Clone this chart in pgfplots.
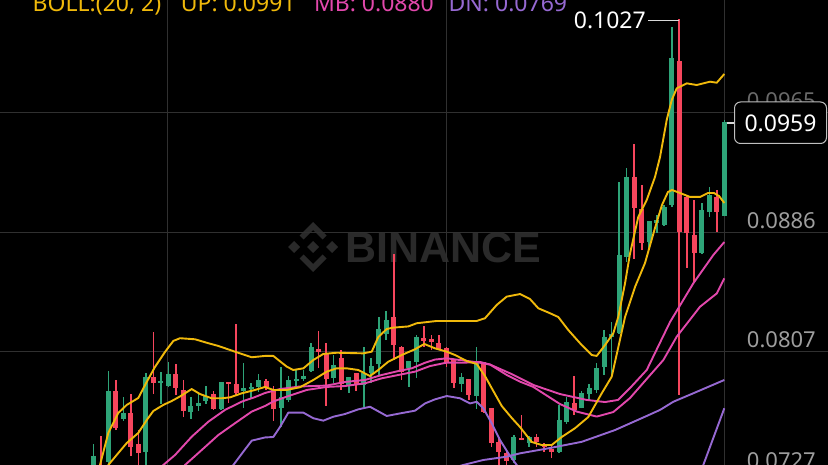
\documentclass[border=0pt]{standalone}
\usepackage{fontspec}
\setmainfont{Noto Sans}
\newfontfamily\wmfont{Liberation Sans}
\usepackage{pgfplots}
\usepackage{pgfplotstable}
\pgfplotsset{compat=1.18}
\definecolor{upc}{RGB}{46,164,120}
\definecolor{dnc}{RGB}{246,70,93}
\definecolor{yel}{RGB}{240,185,11}
\definecolor{pnk}{RGB}{226,72,172}
\definecolor{pur}{RGB}{150,105,210}
\definecolor{gridc}{RGB}{48,48,48}
\definecolor{lbl}{RGB}{158,158,158}
\definecolor{lbldim}{RGB}{105,105,105}
\definecolor{wm}{RGB}{42,42,42}

% green (rising) candles: index open close high low
\pgfplotstableread{
i o c h l
0 0.07257 0.07382 0.07462 0.07191
2 0.07343 0.07812 0.07944 0.07290
4 0.07627 0.07667 0.07772 0.07614
7 0.07409 0.07905 0.07931 0.07316
9 0.07865 0.07878 0.07938 0.07726
10 0.07845 0.07925 0.08004 0.07839
13 0.07673 0.07713 0.07772 0.07627
14 0.07713 0.07733 0.07799 0.07680
15 0.07746 0.07779 0.07845 0.07726
17 0.07693 0.07872 0.07872 0.07687
20 0.07812 0.07832 0.07997 0.07700
21 0.07825 0.07839 0.07865 0.07759
22 0.07839 0.07885 0.07925 0.07806
25 0.07700 0.07772 0.07971 0.07574
26 0.07753 0.07885 0.07911 0.07739
27 0.07878 0.07891 0.07951 0.07839
28 0.07891 0.07911 0.07951 0.07878
29 0.07944 0.08103 0.08130 0.07938
32 0.07898 0.07984 0.08050 0.07865
34 0.07852 0.07905 0.07905 0.07799
36 0.07852 0.07931 0.08103 0.07706
37 0.07931 0.07977 0.08030 0.07865
38 0.07991 0.08222 0.08301 0.07918
39 0.08189 0.08282 0.08341 0.08149
42 0.07964 0.08010 0.08010 0.07839
43 0.08004 0.08169 0.08182 0.07898
49 0.07858 0.07905 0.07931 0.07806
51 0.07779 0.07997 0.08103 0.07693
56 0.07356 0.07508 0.07521 0.07336
58 0.07468 0.07508 0.07515 0.07442
62 0.07409 0.07620 0.07720 0.07402
63 0.07607 0.07739 0.07772 0.07594
65 0.07700 0.07799 0.07812 0.07697
66 0.07792 0.07832 0.07858 0.07753
67 0.07819 0.07964 0.07997 0.07799
68 0.07971 0.08169 0.08215 0.07918
69 0.08169 0.08189 0.08268 0.07905
70 0.08196 0.08711 0.09194 0.08192
71 0.08698 0.09227 0.09286 0.08665
74 0.08797 0.08936 0.08936 0.08758
75 0.08923 0.08943 0.08976 0.08857
76 0.08910 0.09029 0.09042 0.08903
77 0.09042 0.10014 0.10219 0.09029
81 0.08724 0.09009 0.09055 0.08721
82 0.08996 0.09108 0.09161 0.08962
84 0.08969 0.09590 0.09604 0.08966
}\upT

% red (falling) candles: index open close high low
\pgfplotstableread{
i o c h l
1 0.07316 0.07211 0.07515 0.07171
3 0.07812 0.07568 0.07885 0.07554
5 0.07667 0.07442 0.07792 0.07382
6 0.07462 0.07402 0.07554 0.07316
8 0.07905 0.07865 0.08202 0.07792
11 0.07925 0.07832 0.07991 0.07786
12 0.07819 0.07680 0.07885 0.07640
16 0.07792 0.07693 0.07812 0.07687
18 0.07872 0.07858 0.07872 0.07733
19 0.07858 0.07799 0.08255 0.07786
23 0.07878 0.07839 0.07891 0.07819
24 0.07819 0.07693 0.07845 0.07614
30 0.08090 0.08070 0.08209 0.07964
31 0.08057 0.07891 0.08130 0.07713
33 0.08030 0.07858 0.08083 0.07819
35 0.07931 0.07852 0.07931 0.07812
40 0.08301 0.08116 0.08718 0.08017
41 0.08103 0.07938 0.08110 0.07885
44 0.08163 0.08143 0.08242 0.08103
45 0.08156 0.08136 0.08182 0.08083
46 0.08130 0.08090 0.08182 0.08080
47 0.08096 0.07997 0.08103 0.07971
48 0.08017 0.07865 0.08017 0.07832
50 0.07891 0.07786 0.07891 0.07753
52 0.08004 0.07673 0.08004 0.07667
53 0.07700 0.07468 0.07700 0.07442
54 0.07475 0.07409 0.07508 0.07310
55 0.07402 0.07349 0.07429 0.07316
57 0.07501 0.07488 0.07653 0.07485
59 0.07508 0.07475 0.07528 0.07442
60 0.07455 0.07442 0.07468 0.07409
61 0.07429 0.07409 0.07449 0.07369
64 0.07733 0.07687 0.07911 0.07653
72 0.09227 0.09022 0.09445 0.08685
73 0.09015 0.08791 0.09174 0.08744
78 0.09994 0.08863 0.10270 0.07786
79 0.09095 0.08857 0.09101 0.08625
80 0.08843 0.08724 0.09075 0.08533
83 0.09095 0.08996 0.09141 0.08863
}\dnT

% BOLL UP
\pgfplotstableread{
i p
0.49 0.07224
0.89 0.07323
2.00 0.07535
3.33 0.07667
4.45 0.07720
5.99 0.07766
7.11 0.07872
8.21 0.07971
9.54 0.08070
10.65 0.08143
11.54 0.08161
13.54 0.08154
15.31 0.08128
16.64 0.08110
18.86 0.08072
21.09 0.08035
22.86 0.08044
23.96 0.08044
25.75 0.07973
26.62 0.07951
27.96 0.07962
29.29 0.08017
30.62 0.08057
32.40 0.08065
34.17 0.08063
35.94 0.08061
37.06 0.08072
37.94 0.08169
39.06 0.08222
39.94 0.08231
41.93 0.08239
43.05 0.08260
45.71 0.08275
48.81 0.08275
51.04 0.08275
52.14 0.08293
53.70 0.08381
55.03 0.08436
56.80 0.08453
58.13 0.08420
59.24 0.08359
60.80 0.08326
61.90 0.08301
63.23 0.08215
65.01 0.08116
66.35 0.08050
67.01 0.08044
68.12 0.08116
69.22 0.08194
69.89 0.08303
70.78 0.08524
71.45 0.08722
72.55 0.08964
73.67 0.09075
74.77 0.09227
75.44 0.09359
76.33 0.09604
77.00 0.09736
77.66 0.09813
78.99 0.09846
80.32 0.09835
82.09 0.09857
82.99 0.09850
84.00 0.09908
}\upband

% short moving average (yellow)
\pgfplotstableread{
i p
1.69 0.07224
2.00 0.07323
3.33 0.07402
4.45 0.07468
5.99 0.07535
7.11 0.07620
7.99 0.07680
9.32 0.07720
10.44 0.07746
11.54 0.07776
13.10 0.07825
14.20 0.07792
15.76 0.07764
17.09 0.07764
18.20 0.07770
19.76 0.07797
21.53 0.07819
22.86 0.07839
23.96 0.07819
25.75 0.07819
27.52 0.07837
29.29 0.07885
31.07 0.07940
32.40 0.07962
33.73 0.07962
35.28 0.07951
36.83 0.07911
37.94 0.07951
39.27 0.08006
41.05 0.08050
42.82 0.08088
44.06 0.08123
45.49 0.08094
47.05 0.08072
48.15 0.08050
49.71 0.08010
51.04 0.07991
52.14 0.07911
53.25 0.07812
54.37 0.07713
55.70 0.07634
56.80 0.07574
58.36 0.07475
59.69 0.07455
61.02 0.07455
62.35 0.07508
64.12 0.07566
65.89 0.07640
67.68 0.07797
69.01 0.07907
69.89 0.08103
70.78 0.08301
72.11 0.08500
73.44 0.08658
74.77 0.08890
75.70 0.09042
76.50 0.09128
77.03 0.09141
78.10 0.09121
79.43 0.09095
80.76 0.09095
81.82 0.09121
82.62 0.09121
83.29 0.09101
84.00 0.09055
}\maS

% BOLL MB
\pgfplotstableread{
i p
8.88 0.07290
9.32 0.07323
10.88 0.07389
13.10 0.07510
15.31 0.07609
17.53 0.07687
19.76 0.07742
21.53 0.07772
22.86 0.07799
24.85 0.07825
27.52 0.07842
31.07 0.07848
33.51 0.07872
36.17 0.07885
38.39 0.07918
40.60 0.07944
42.39 0.07962
44.16 0.07999
45.49 0.08020
47.05 0.08028
49.25 0.08014
51.48 0.07999
52.81 0.07987
55.47 0.07929
58.57 0.07852
62.12 0.07792
65.68 0.07753
68.12 0.07739
69.85 0.07753
71.45 0.07832
73.67 0.07951
76.77 0.08268
79.87 0.08524
82.53 0.08711
84.00 0.08797
}\mbband

% middle moving average (pink)
\pgfplotstableread{
i p
11.81 0.07290
12.21 0.07323
14.43 0.07422
16.64 0.07521
18.86 0.07599
21.09 0.07676
22.86 0.07713
23.92 0.07742
25.75 0.07775
28.41 0.07819
31.07 0.07839
33.51 0.07845
36.17 0.07863
38.39 0.07896
40.60 0.07918
42.82 0.07940
44.82 0.07977
47.05 0.08000
49.25 0.07999
51.48 0.08004
52.81 0.07987
55.03 0.07918
56.80 0.07874
58.57 0.07839
62.12 0.07726
64.35 0.07676
67.01 0.07643
69.22 0.07673
71.45 0.07766
75.88 0.08017
77.66 0.08171
80.76 0.08369
82.99 0.08457
84.00 0.08557
}\maM

% BOLL DN
\pgfplotstableread{
i p
17.93 0.07257
18.64 0.07323
19.97 0.07411
21.09 0.07484
22.86 0.07505
23.96 0.07508
24.85 0.07574
25.96 0.07669
27.96 0.07669
29.29 0.07632
30.62 0.07616
31.95 0.07642
33.51 0.07660
35.28 0.07691
36.83 0.07708
39.06 0.07647
40.83 0.07664
42.82 0.07682
44.16 0.07730
45.49 0.07757
47.05 0.07779
48.81 0.07764
50.15 0.07730
51.04 0.07741
51.92 0.07698
53.03 0.07599
54.14 0.07488
55.25 0.07400
56.36 0.07323
57.47 0.07224
nan nan
79.43 0.07092
81.20 0.07323
84.00 0.07698
}\dnband

% long moving average (purple)
\pgfplotstableread{
i p
46.15 0.07277
49.25 0.07323
51.92 0.07356
55.03 0.07378
56.80 0.07400
60.57 0.07433
65.01 0.07476
69.45 0.07554
73.44 0.07642
75.44 0.07687
77.21 0.07741
79.87 0.07797
84.00 0.07885
}\maL

\begin{document}
\begin{tikzpicture}
\useasboundingbox (0,35bp) rectangle (828bp,500bp);
\fill[black] (0,35bp) rectangle (828bp,500bp);
% watermark
\begin{scope}[shift={(313bp,253bp)}, x=1bp, y=1bp]
  \fill[wm] (0,6)--(6,0)--(0,-6)--(-6,0)--cycle;
  \fill[wm] (-19,6)--(-13,0)--(-19,-6)--(-25,0)--cycle;
  \fill[wm] (19,6)--(25,0)--(19,-6)--(13,0)--cycle;
  \fill[wm] (0,25)--(13.5,11.5)--(9.5,7.5)--(0,17)--(-9.5,7.5)--(-13.5,11.5)--cycle;
  \fill[wm] (0,-25)--(13.5,-11.5)--(9.5,-7.5)--(0,-17)--(-9.5,-7.5)--(-13.5,-11.5)--cycle;
\end{scope}
\node[anchor=base west, inner sep=0, text=wm, font=\wmfont\bfseries\fontsize{43bp}{46bp}\selectfont] at (345bp,237bp) {BINANCE};

\begin{axis}[
  at={(0,0)}, anchor=south west,
  width=828bp, height=500bp, scale only axis,
  xmin=-12.42, xmax=97.80,
  ymin=0.070915, ymax=0.10397,
  axis line style={draw=none},
  tick style={draw=none},
  major tick length=0pt,
  xtick={9.94,47.08,84.08}, xticklabels={},
  ytick={0.0727,0.0807,0.0886,0.0965},
  yticklabels={0.0727,0.0807,0.0886,{\textcolor{lbldim}{0.0965}}},
  scaled y ticks=false,
  yticklabel pos=right,
  yticklabel style={anchor=base east, inner sep=0pt, xshift=-12bp, yshift=4bp, text=lbl, font=\fontsize{22bp}{26bp}\selectfont},
  grid=major, grid style={gridc, line width=1bp},
  clip mode=individual,
  unbounded coords=jump,
]
% wicks
\addplot[forget plot, draw=none, mark=none,
  error bars/.cd, y dir=plus, y explicit, error mark=none,
  error bar style={draw=upc, line width=1.6bp}]
  table[x=i, y=l, y error plus expr=\thisrow{h}-\thisrow{l}] {\upT};
\addplot[forget plot, draw=none, mark=none,
  error bars/.cd, y dir=plus, y explicit, error mark=none,
  error bar style={draw=dnc, line width=1.6bp}]
  table[x=i, y=l, y error plus expr=\thisrow{h}-\thisrow{l}] {\dnT};
% bodies
\addplot[forget plot, draw=none, mark=none,
  error bars/.cd, y dir=plus, y explicit, error mark=none,
  error bar style={draw=upc, line width=5bp}]
  table[x=i, y=o, y error plus expr=\thisrow{c}-\thisrow{o}] {\upT};
\addplot[forget plot, draw=none, mark=none,
  error bars/.cd, y dir=plus, y explicit, error mark=none,
  error bar style={draw=dnc, line width=5bp}]
  table[x=i, y=c, y error plus expr=\thisrow{o}-\thisrow{c}] {\dnT};
% indicator lines
\addplot[pur, line width=1.9bp, line join=round, mark=none] table[x=i,y=p] {\maL};
\addplot[pur, line width=1.9bp, line join=round, mark=none] table[x=i,y=p] {\dnband};
\addplot[pnk, line width=1.9bp, line join=round, mark=none] table[x=i,y=p] {\maM};
\addplot[pnk, line width=1.9bp, line join=round, mark=none] table[x=i,y=p] {\mbband};
\addplot[yel, line width=1.9bp, line join=round, mark=none] table[x=i,y=p] {\maS};
\addplot[yel, line width=1.9bp, line join=round, mark=none] table[x=i,y=p] {\upband};
\end{axis}

\begin{scope}[font=\fontsize{23bp}{27bp}\selectfont]
\node[anchor=base west, inner sep=0, text=yel] at (32.5bp,488.5bp) {BOLL:(20, 2)};
\node[anchor=base west, inner sep=0, text=yel] at (180.6bp,488.5bp) {UP: 0.0991};
\node[anchor=base west, inner sep=0, text=pnk] at (313.8bp,488.5bp) {MB: 0.0880};
\node[anchor=base west, inner sep=0, text=pur] at (448.5bp,488.5bp) {DN: 0.0769};
% high marker
\node[anchor=base east, inner sep=0, text=white] at (646bp,471bp) {0.1027};
\draw[white!85!black, line width=1.2bp] (648bp,479.3bp) -- (679bp,479.3bp);
% last price
\draw[white!85!black, line width=1.2bp] (727bp,377bp) -- (734.5bp,377bp);
\draw[rounded corners=6bp, fill=black, draw=white!75!black, line width=1bp] (734.5bp,356.5bp) rectangle (826.5bp,398bp);
\node[anchor=base, inner sep=0, text=white] at (780.5bp,368bp) {0.0959};
\end{scope}
\end{tikzpicture}
\end{document}
